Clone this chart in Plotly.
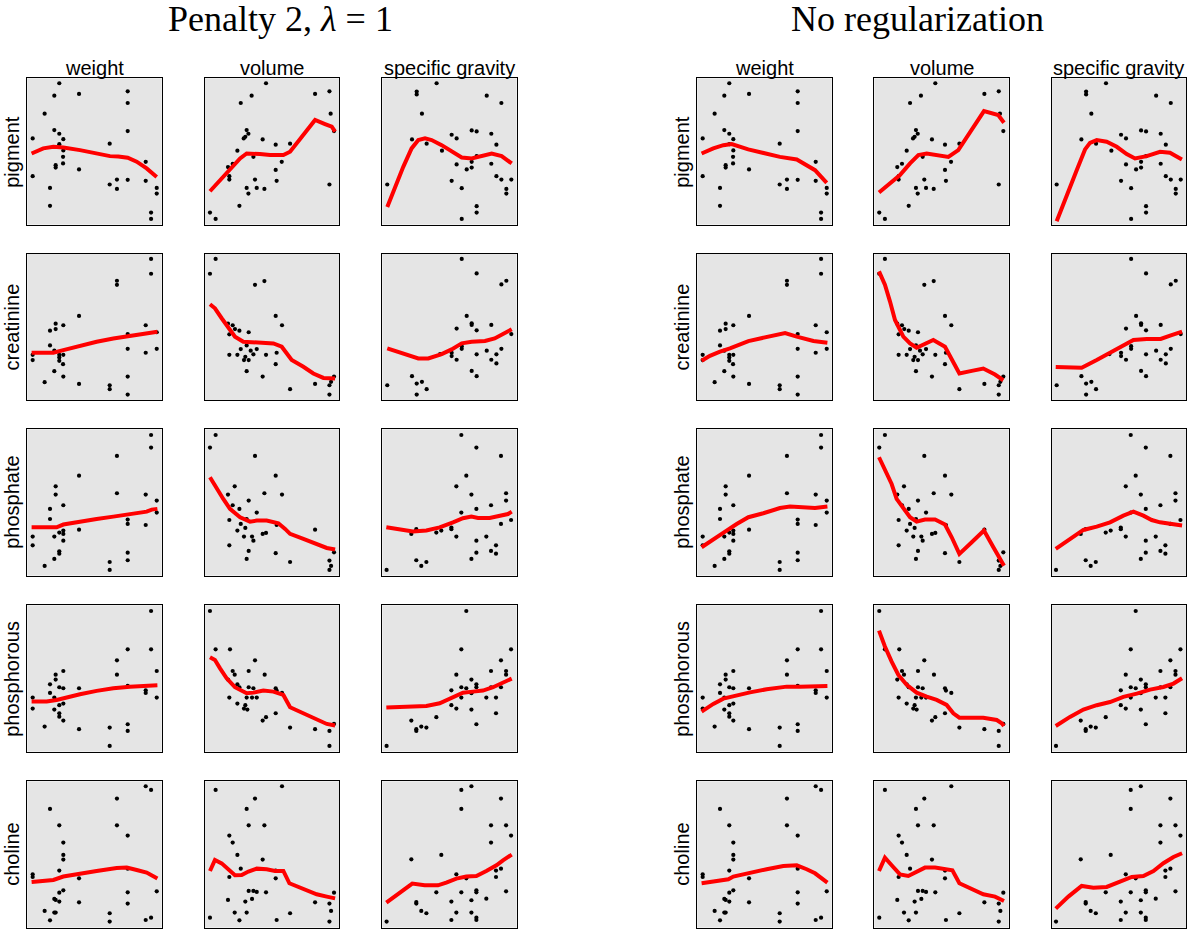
import plotly.graph_objects as go

# ---------------- labels ----------------
ROWS = ["pigment", "creatinine", "phosphate", "phosphorous", "choline"]
COLS = ["weight", "volume", "specific gravity"]
GROUP_TITLES = ["Penalty 2, <i>λ</i> = 1", "No regularization"]

# ---------------- observations (scaled 0-100 per panel) ----------------
PIG_W = [(23.8,96.6),(20.1,88.1),(38.5,89.3),(74.7,91.1),(74.7,83.1),(12.9,75.8),(4.0,58.9),(20.1,64.6),(23.8,62.1),(26.8,58.4),(23.8,55.0),(26.8,50.7),(26.6,46.3),(26.6,41.8),(21.1,40.6),(21.1,39.0),(38.5,37.7),(61.3,55.3),(74.7,63.9),(88.1,42.9),(4.0,33.1),(16.9,25.1),(16.9,12.8),(61.3,27.4),(66.7,30.8),(66.7,24.4),(74.7,30.6),(88.1,29.9),(96.3,25.1),(96.3,21.2),(92.1,8.2),(92.1,3.9)]
PIG_V = [(45.4,96.6),(34.7,88.1),(26.6,83.1),(81.9,89.3),(92.6,91.1),(93.5,75.8),(96.0,63.9),(31.0,64.6),(32.3,62.1),(28.8,58.9),(42.9,58.2),(24.1,50.5),(52.6,54.6),(63.3,55.3),(36.0,46.3),(17.1,39.3),(20.6,41.6),(18.1,33.1),(18.1,30.8),(57.1,42.9),(52.6,37.4),(37.2,30.8),(53.3,29.9),(31.0,25.1),(38.5,25.1),(44.2,24.4),(32.3,21.2),(25.6,12.8),(92.6,27.4),(3.7,8.2),(7.9,3.9),(30.0,60.0)]
PIG_S = [(40.4,96.6),(25.6,90.9),(25.6,89.0),(77.7,88.1),(88.6,83.1),(29.5,75.8),(22.1,58.2),(33.0,55.3),(44.4,50.5),(51.6,61.4),(55.3,58.9),(66.5,64.4),(70.2,63.7),(81.1,62.1),(84.9,54.6),(70.2,46.8),(66.5,42.9),(62.8,37.7),(66.5,39.0),(55.3,41.1),(81.1,41.6),(84.9,33.1),(88.6,30.8),(96.0,30.8),(92.3,24.4),(92.3,21.2),(51.6,29.9),(59.1,24.9),(70.2,12.6),(70.2,8.2),(59.1,3.9),(3.7,27.4)]

CRE_W = [(92.1,96.6),(92.1,86.5),(66.7,81.7),(66.7,78.9),(38.5,57.7),(21.1,52.4),(16.9,47.6),(21.1,48.7),(26.8,51.3),(88.1,51.3),(74.7,45.3),(16.9,37.5),(20.1,33.9),(4.0,31.1),(4.0,27.5),(23.8,31.1),(26.8,31.1),(23.8,29.3),(23.8,27.0),(26.6,24.7),(20.1,19.9),(26.8,16.2),(12.9,12.4),(38.5,11.2),(61.3,10.3),(61.3,7.6),(74.7,35.2),(96.3,35.2),(88.1,32.5),(74.7,16.2),(74.7,3.9),(96.3,46.5)]
CRE_V = [(7.9,96.6),(3.7,86.5),(37.2,78.9),(44.2,81.5),(52.6,57.7),(57.3,51.3),(17.1,52.4),(20.6,51.3),(22.3,48.7),(25.6,47.6),(18.1,45.1),(32.5,46.5),(31.0,37.5),(26.6,35.0),(34.0,33.9),(38.5,35.0),(36.0,31.4),(30.0,29.7),(32.5,27.5),(29.0,27.5),(24.1,31.1),(18.1,31.1),(45.4,31.1),(53.3,32.5),(52.6,24.7),(31.0,19.9),(42.9,16.2),(63.3,7.6),(81.9,11.2),(96.0,16.2),(93.8,12.6),(92.6,10.3),(92.6,3.9)]
CRE_S = [(59.1,96.6),(70.2,86.7),(88.6,79.2),(92.3,81.7),(62.8,57.7),(66.5,52.6),(66.5,51.5),(55.3,49.0),(70.2,47.8),(81.1,51.5),(96.0,45.3),(59.1,35.2),(59.1,37.0),(51.6,32.5),(43.0,31.6),(51.6,30.2),(55.3,27.7),(70.2,31.4),(77.7,33.9),(88.6,35.2),(84.9,31.4),(81.1,27.7),(84.9,25.2),(66.5,20.1),(70.2,16.5),(22.1,16.5),(25.6,11.4),(29.5,12.6),(33.0,7.6),(25.6,3.9),(3.7,10.3)]

PHT_W = [(92.1,96.1),(92.1,87.5),(66.7,81.8),(38.5,68.3),(21.1,61.0),(21.1,55.4),(66.7,56.3),(88.1,55.4),(96.3,51.3),(96.3,43.1),(16.9,45.6),(26.8,48.1),(16.9,38.7),(4.0,26.7),(4.0,20.7),(26.8,30.8),(23.8,29.4),(26.8,28.5),(20.1,26.7),(26.8,23.9),(23.8,16.6),(23.8,15.0),(20.1,11.4),(12.9,6.6),(38.5,31.4),(74.7,38.3),(74.7,35.3),(88.1,34.6),(74.7,15.7),(74.7,10.5),(61.3,9.3),(61.3,3.9)]
PHT_V = [(7.9,96.1),(3.7,87.5),(37.2,81.8),(52.6,68.3),(22.1,61.0),(17.1,55.4),(44.2,56.3),(57.3,55.4),(32.5,51.3),(20.6,48.1),(25.6,45.6),(38.5,43.1),(31.0,38.7),(18.1,38.0),(26.6,35.3),(30.0,32.6),(24.1,30.8),(53.3,34.6),(42.9,28.5),(45.4,29.2),(29.0,26.7),(35.0,26.7),(36.0,23.9),(18.1,20.7),(32.5,16.9),(31.0,11.4),(52.6,15.3),(63.3,9.3),(81.9,31.4),(96.0,15.9),(92.6,10.3),(93.8,6.6),(92.6,3.9)]
PHT_S = [(58.8,96.1),(70.0,87.5),(88.3,81.8),(62.5,68.3),(55.1,61.0),(66.3,55.4),(92.1,56.3),(92.1,51.3),(80.9,48.1),(70.0,45.6),(58.8,43.1),(88.3,35.3),(95.8,38.0),(55.1,26.7),(51.4,32.8),(51.4,31.7),(43.9,30.8),(40.2,29.4),(25.3,31.7),(21.6,28.5),(70.0,23.9),(77.4,26.7),(70.0,15.7),(66.3,11.4),(80.9,16.9),(84.6,15.0),(84.6,20.7),(25.3,10.5),(32.8,9.3),(29.0,6.6),(3.2,3.9)]

PHR_W = [(92.1,96.1),(74.7,69.9),(92.1,69.9),(66.7,62.4),(96.3,55.1),(66.7,52.6),(26.8,55.1),(21.1,52.6),(21.1,49.2),(16.9,46.0),(23.8,44.0),(26.8,43.3),(16.9,40.1),(20.1,36.9),(4.0,36.9),(4.0,29.4),(20.1,28.7),(23.8,31.7),(26.8,32.8),(23.8,26.2),(23.8,23.9),(26.8,21.2),(12.9,17.1),(38.5,43.3),(38.5,15.3),(74.7,44.9),(88.1,41.9),(88.1,40.1),(96.3,36.9),(74.7,18.7),(74.7,14.1),(61.3,16.4),(61.3,3.9)]
PHR_V = [(3.7,96.1),(7.9,69.9),(18.6,69.9),(37.2,62.4),(32.5,55.1),(20.6,55.1),(22.1,52.6),(44.4,52.6),(17.1,49.2),(24.1,46.0),(25.6,44.0),(32.5,44.0),(36.0,43.3),(52.6,43.3),(53.3,41.7),(57.3,40.1),(18.1,36.9),(31.0,36.9),(35.0,36.9),(38.5,36.9),(24.1,32.8),(30.0,31.7),(29.0,29.4),(31.5,28.7),(42.9,21.2),(45.4,23.5),(52.6,26.2),(63.3,16.4),(81.9,15.3),(96.0,18.9),(92.6,14.1),(92.6,3.9)]
PHR_S = [(62.5,96.1),(58.8,69.9),(95.8,69.9),(88.3,62.4),(80.9,55.1),(92.1,55.1),(92.1,52.6),(55.1,52.6),(66.3,49.2),(58.8,44.0),(62.5,43.3),(70.0,46.0),(70.0,44.0),(80.9,44.0),(88.3,44.0),(51.4,41.9),(58.8,36.9),(66.3,39.9),(77.4,36.9),(84.6,36.9),(51.4,31.7),(55.1,29.4),(66.3,28.7),(84.6,26.2),(40.2,23.5),(21.6,21.2),(25.3,15.3),(25.3,14.1),(29.0,17.1),(32.8,16.4),(70.0,18.7),(3.2,3.9)]

CHO_W = [(88.1,96.6),(92.1,94.1),(66.7,88.2),(16.9,81.1),(66.7,69.9),(23.8,69.9),(74.7,62.9),(26.8,58.1),(26.8,49.7),(26.8,46.5),(23.8,39.0),(4.0,36.4),(4.0,34.6),(74.7,40.3),(38.5,33.7),(26.8,25.5),(23.8,23.9),(96.3,24.8),(74.7,24.1),(20.1,19.6),(21.1,18.9),(23.8,17.8),(38.5,17.3),(74.7,16.4),(12.9,11.4),(20.1,10.3),(21.1,10.3),(16.9,5.0),(61.3,9.8),(61.3,4.1),(88.1,5.2),(92.1,6.8)]
CHO_V = [(7.9,94.1),(57.3,96.6),(37.2,88.2),(31.0,81.1),(32.5,69.9),(44.2,69.9),(18.1,62.9),(20.6,58.1),(24.1,49.7),(42.9,46.5),(26.6,40.3),(52.6,39.0),(18.1,34.6),(52.6,33.7),(32.5,25.1),(36.0,25.1),(38.5,24.4),(45.4,24.1),(17.1,18.9),(35.0,19.6),(30.0,17.8),(81.9,17.3),(96.0,23.9),(92.6,16.4),(93.8,11.4),(22.1,10.3),(31.0,10.3),(63.3,9.8),(3.7,6.8),(25.6,5.0),(53.3,5.2),(92.6,4.1)]
CHO_S = [(66.3,96.6),(58.8,94.1),(58.8,81.1),(88.3,88.2),(80.9,69.9),(92.1,69.9),(95.8,62.9),(80.9,58.1),(43.9,49.7),(21.6,46.7),(88.3,40.3),(84.6,39.0),(84.6,34.6),(55.1,36.4),(62.5,33.7),(40.2,24.1),(58.8,24.1),(70.0,25.5),(70.0,24.1),(92.1,24.8),(25.3,17.5),(25.3,16.4),(29.0,11.4),(32.8,9.8),(51.4,17.8),(66.3,18.7),(77.4,19.8),(55.1,10.3),(66.3,10.3),(70.0,6.8),(70.0,5.2),(51.4,5.2),(3.2,4.1)]

# ---------------- fitted curves: Penalty 2, lambda = 1 ----------------
PEN_PIG_W = [(3.2,48.6),(11.9,52.1),(19.4,53.2),(26.8,52.7),(39.2,50.9),(61.5,46.8),(67.7,46.6),(74.7,45.7),(81.4,43.0),(88.8,38.4),(96.3,32.6)]
PEN_PIG_V = [(3.7,22.8),(11.2,30.4),(18.6,37.2),(26.1,45.2),(31.0,48.6),(36.0,48.6),(40.9,48.2),(48.4,47.5),(58.3,47.5),(63.3,49.8),(71.9,60.0),(81.9,71.5),(89.3,68.7),(94.3,66.9),(96.8,63.5)]
PEN_PIG_S = [(3.7,12.1),(9.4,25.8),(15.6,39.5),(21.8,52.1),(26.8,57.8),(31.8,58.9),(36.7,57.8),(44.2,54.3),(51.6,49.8),(59.1,45.9),(66.5,45.2),(74.0,46.8),(81.4,48.6),(88.8,46.8),(96.3,41.8)]
PEN_CRE_W = [(3.2,32.5),(19.4,32.5),(26.8,34.3),(39.2,37.3),(51.6,40.0),(64.0,42.3),(76.4,44.2),(88.8,45.8),(96.8,46.9)]
PEN_CRE_V = [(3.7,65.7),(7.4,62.9),(12.4,56.1),(17.4,49.2),(22.3,43.5),(28.5,40.0),(38.5,39.4),(50.9,38.9),(57.1,36.6),(60.8,32.0),(64.5,27.5),(73.2,22.9),(80.6,18.3),(88.1,15.3),(96.8,14.9)]
PEN_CRE_S = [(3.7,35.5),(14.4,32.0),(26.8,28.6),(34.2,28.6),(44.2,31.6),(51.6,34.8),(59.1,38.9),(66.5,40.0),(76.4,40.5),(83.6,42.3),(91.3,45.8),(96.3,48.5)]
PEN_PHT_W = [(3.2,33.0),(21.8,33.0),(26.8,34.9),(38.0,36.9),(51.6,38.7),(64.0,40.3),(76.4,41.7),(88.8,43.7),(92.6,45.1),(96.8,45.6)]
PEN_PHT_V = [(3.7,67.2),(8.7,59.2),(13.6,52.4),(18.6,45.6),(26.1,39.9),(33.5,36.9),(38.5,37.6),(45.9,37.6),(54.6,35.8),(59.6,31.9),(63.3,28.5),(73.2,25.1),(83.1,21.6),(90.6,18.9),(96.8,17.8)]
PEN_PHT_S = [(3.0,33.0),(12.9,31.7),(22.8,30.1),(32.8,30.8),(42.7,33.0),(52.6,36.4),(60.0,39.2),(66.3,40.3),(71.2,39.4),(79.9,39.4),(87.3,40.8),(93.5,42.1),(96.3,43.7)]
PEN_PHR_W = [(3.2,34.2),(14.4,34.2),(21.8,35.3),(29.3,37.1),(39.2,39.2),(51.6,41.5),(64.0,43.3),(76.4,44.4),(88.8,45.3),(96.8,45.3)]
PEN_PHR_V = [(3.7,64.5),(7.4,62.6),(11.2,56.9),(16.1,50.1),(22.3,44.0),(31.0,39.9),(36.0,40.3),(43.4,41.7),(50.9,41.0),(58.3,38.7),(63.3,30.3),(73.2,26.2),(83.1,21.6),(90.6,18.9),(96.8,17.8)]
PEN_PHR_S = [(3.0,30.1),(12.9,30.5),(22.8,31.2),(32.8,31.2),(42.7,33.0),(52.6,37.1),(60.0,40.3),(67.5,41.0),(74.9,41.7),(82.4,44.0),(89.8,47.2),(96.3,49.9)]
PEN_CHO_W = [(3.2,31.2),(19.4,32.6),(26.8,34.9),(39.2,37.1),(51.6,38.7),(66.5,40.8),(74.0,41.0),(81.4,39.4),(88.8,37.6),(96.8,33.5)]
PEN_CHO_V = [(3.7,38.7),(7.4,46.2),(12.4,43.9),(18.6,38.7),(22.3,35.8),(27.3,36.0),(32.3,38.3),(38.5,40.3),(45.9,39.9),(52.1,38.7),(58.3,38.7),(62.8,30.3),(73.2,26.2),(83.1,22.8),(90.6,21.2),(96.8,20.0)]
PEN_CHO_S = [(3.0,17.1),(12.9,23.9),(22.3,30.1),(31.5,28.9),(41.4,28.9),(47.6,30.8),(55.1,33.5),(62.5,34.9),(70.0,35.3),(77.4,38.7),(84.9,42.6),(89.8,46.0),(96.3,49.9)]

# ---------------- fitted curves: No regularization ----------------
NR_PIG_W = [(3.2,48.6),(11.9,52.1),(19.4,54.3),(25.6,55.0),(37.9,51.4),(51.6,48.6),(61.5,46.3),(74.0,44.5),(81.4,40.6),(87.6,37.2),(96.3,28.5)]
NR_PIG_V = [(3.5,21.9),(11.7,28.1),(19.1,33.8),(26.6,41.8),(32.8,47.5),(39.0,48.6),(46.4,47.5),(55.1,46.3),(62.5,50.9),(71.2,63.5),(81.6,77.6),(92.2,74.9),(96.5,69.6)]
NR_PIG_S = [(3.7,2.3),(11.2,19.0),(18.6,37.2),(24.8,51.4),(28.5,55.9),(33.5,57.8),(40.9,56.6),(48.4,53.2),(55.8,48.2),(62.0,45.2),(70.7,46.8),(80.6,49.8),(88.0,49.1),(96.9,44.5)]
NR_CRE_W = [(3.2,27.0),(9.4,30.4),(16.9,33.2),(24.3,35.5),(38.0,40.5),(51.6,43.5),(65.3,46.0),(74.0,43.5),(86.4,40.5),(96.8,39.4)]
NR_CRE_V = [(3.5,88.1),(7.9,79.0),(11.7,67.5),(15.4,54.9),(21.6,43.5),(26.6,38.9),(31.5,35.9),(36.5,37.8),(43.9,41.2),(52.6,36.6),(58.8,26.3),(63.3,18.3),(72.5,20.1),(81.1,21.7),(89.8,17.6),(96.0,13.7)]
NR_CRE_S = [(3.0,22.7),(22.3,22.2),(33.5,27.5),(44.7,33.2),(53.3,37.8),(60.8,41.2),(70.7,41.9),(81.1,41.9),(88.1,44.2),(97.0,46.9)]
NR_PHT_W = [(3.2,19.4),(11.9,25.1),(21.8,30.8),(29.3,35.3),(38.0,39.9),(49.1,42.6),(61.5,46.2),(69.0,47.2),(78.9,46.7),(87.6,46.2),(96.8,47.2)]
NR_PHT_V = [(3.5,80.9),(7.9,72.9),(12.9,62.6),(16.6,52.4),(21.6,45.6),(26.6,39.9),(31.5,36.9),(37.7,38.3),(45.2,38.3),(52.6,34.9),(57.6,26.2),(63.3,14.8),(72.5,22.8),(81.6,30.8),(88.6,19.4),(93.5,11.4),(96.5,6.8)]
NR_PHT_S = [(3.0,18.2),(13.6,25.1),(23.6,31.2),(33.5,33.5),(43.4,36.4),(53.3,41.0),(60.8,43.7),(68.2,41.0),(74.4,38.0),(80.6,36.4),(88.1,35.3),(97.0,34.2)]
NR_PHR_W = [(3.2,27.3),(11.9,32.6),(19.4,36.2),(29.3,38.7),(39.2,40.5),(51.6,42.6),(66.5,44.4),(76.4,44.4),(86.4,44.9),(96.8,44.9)]
NR_PHR_V = [(3.5,82.7),(7.9,71.8),(12.9,61.5),(17.9,52.4),(24.1,45.6),(31.5,40.3),(39.0,37.6),(46.4,35.3),(53.8,31.9),(58.8,26.2),(63.3,23.2),(72.5,23.2),(81.1,23.2),(91.1,21.6),(94.8,19.4),(96.5,17.5)]
NR_PHR_S = [(3.0,17.5),(13.6,23.7),(23.6,28.7),(33.5,31.7),(43.4,33.9),(53.3,37.4),(63.3,39.6),(73.2,42.4),(83.1,44.2),(90.6,46.5),(97.0,50.1)]
NR_CHO_W = [(3.2,30.3),(11.9,31.2),(23.1,33.0),(26.8,34.9),(39.2,37.6),(51.6,39.9),(64.0,42.1),(74.0,42.6),(81.4,39.9),(87.6,37.1),(96.8,30.8)]
NR_CHO_V = [(3.5,38.7),(7.9,47.8),(12.9,42.6),(19.1,36.4),(25.3,35.3),(31.5,38.3),(37.7,41.0),(45.2,41.0),(51.4,39.9),(58.1,39.2),(63.3,30.3),(72.5,26.7),(81.1,22.8),(89.8,21.2),(96.5,18.2)]
NR_CHO_S = [(3.0,13.0),(12.4,21.2),(22.3,28.5),(31.0,27.3),(40.9,27.8),(50.9,31.2),(59.6,34.6),(68.2,35.3),(75.7,38.7),(83.1,44.0),(90.6,48.3),(97.0,50.8)]

POINTS = [[PIG_W, PIG_V, PIG_S], [CRE_W, CRE_V, CRE_S], [PHT_W, PHT_V, PHT_S],
          [PHR_W, PHR_V, PHR_S], [CHO_W, CHO_V, CHO_S]]
CURVES = [
    [[PEN_PIG_W, PEN_PIG_V, PEN_PIG_S], [PEN_CRE_W, PEN_CRE_V, PEN_CRE_S], [PEN_PHT_W, PEN_PHT_V, PEN_PHT_S],
     [PEN_PHR_W, PEN_PHR_V, PEN_PHR_S], [PEN_CHO_W, PEN_CHO_V, PEN_CHO_S]],
    [[NR_PIG_W, NR_PIG_V, NR_PIG_S], [NR_CRE_W, NR_CRE_V, NR_CRE_S], [NR_PHT_W, NR_PHT_V, NR_PHT_S],
     [NR_PHR_W, NR_PHR_V, NR_PHR_S], [NR_CHO_W, NR_CHO_V, NR_CHO_S]],
]

# ---------------- geometry (pixels) ----------------
W, H = 1190, 931
COL_LEFT = [[27.3, 205.0, 382.3], [697.3, 874.3, 1051.7]]
PANEL_W = 134.4
ROW_TOP = [78.3, 254.0, 429.3, 605.3, 781.3]
PANEL_H = 146.3
TITLE_X = [280.6, 917.8]

fig = go.Figure()
layout = dict(
    width=W, height=H, autosize=False,
    margin=dict(l=0, r=0, t=0, b=0),
    paper_bgcolor="white", plot_bgcolor="#e5e5e5",
    showlegend=False,
)
annotations = []

k = 0
for g in range(2):
    for r in range(5):
        for c in range(3):
            k += 1
            xa = "xaxis" if k == 1 else f"xaxis{k}"
            ya = "yaxis" if k == 1 else f"yaxis{k}"
            xr = "x" if k == 1 else f"x{k}"
            yr = "y" if k == 1 else f"y{k}"
            x0 = COL_LEFT[g][c] / W
            x1 = (COL_LEFT[g][c] + PANEL_W) / W
            y1 = 1 - ROW_TOP[r] / H
            y0 = 1 - (ROW_TOP[r] + PANEL_H) / H
            common = dict(range=[0, 100], showline=True, mirror=True, linecolor="black",
                          linewidth=1, ticks="", showticklabels=False, showgrid=False,
                          zeroline=False, fixedrange=True)
            layout[xa] = dict(domain=[x0, x1], anchor=yr, **common)
            layout[ya] = dict(domain=[y0, y1], anchor=xr, **common)
            pts = POINTS[r][c]
            fig.add_trace(go.Scatter(
                x=[p[0] for p in pts], y=[p[1] for p in pts], mode="markers",
                marker=dict(size=4.2, color="black"), xaxis=xr, yaxis=yr,
                hoverinfo="skip"))
            cv = CURVES[g][r][c]
            fig.add_trace(go.Scatter(
                x=[p[0] for p in cv], y=[p[1] for p in cv], mode="lines",
                line=dict(color="#ff0000", width=4), xaxis=xr, yaxis=yr,
                hoverinfo="skip"))
            if r == 0:
                annotations.append(dict(
                    text=COLS[c], xref="paper", yref="paper",
                    x=(COL_LEFT[g][c] + PANEL_W / 2) / W, y=1 - 68 / H,
                    xanchor="center", yanchor="middle", showarrow=False,
                    font=dict(family="Liberation Sans, Arial", size=20, color="black")))
            if c == 0:
                annotations.append(dict(
                    text=ROWS[r], xref="paper", yref="paper",
                    x=(COL_LEFT[g][0] - 15) / W, y=1 - (ROW_TOP[r] + PANEL_H / 2) / H,
                    xanchor="center", yanchor="middle", showarrow=False, textangle=-90,
                    font=dict(family="Liberation Sans, Arial", size=20, color="black")))
    annotations.append(dict(
        text=GROUP_TITLES[g], xref="paper", yref="paper",
        x=TITLE_X[g] / W, y=1 - 19 / H, xanchor="center", yanchor="middle",
        showarrow=False,
        font=dict(family="Liberation Serif, Times New Roman, serif", size=36, color="black")))

layout["annotations"] = annotations
fig.update_layout(**layout)
fig.write_html("out.html",
               config={"displayModeBar": False},
               post_script="document.body.style.margin='0px';document.body.style.padding='0px';document.body.style.overflow='hidden';")
